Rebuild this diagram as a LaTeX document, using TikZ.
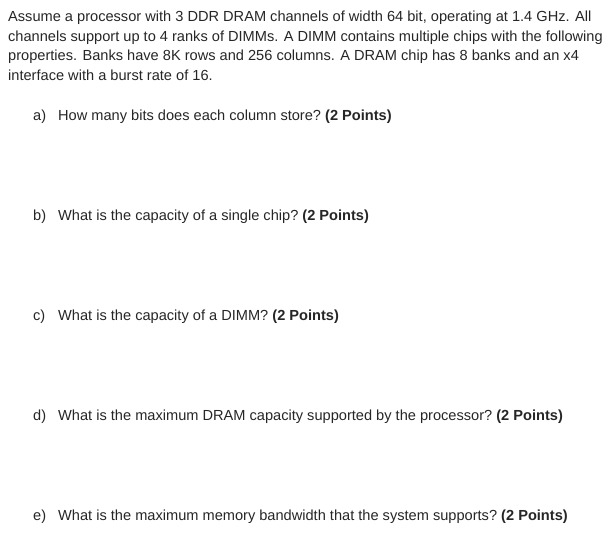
\documentclass[tikz,border=0pt]{standalone}
\usepackage{fontspec}
\setmainfont{Liberation Sans}
\begin{document}
\begin{tikzpicture}[x=1pt,y=1pt,
  txt/.style={anchor=base west,inner sep=0pt,font=\fontsize{14.6}{17}\selectfont,text=black!85}]
\useasboundingbox (0,0) rectangle (608,540);
\node[txt] (l1) at (8,518) {Assume a processor with 3 DDR DRAM channels of width 64 bit, operating at 1.4 GHz. All};
\node[txt] (l2) at (8,498.5) {channels support up to 4 ranks of DIMMs. A DIMM contains multiple chips with the following};
\node[txt] (l3) at (8,479) {properties. Banks have 8K rows and 256 columns. A DRAM chip has 8 banks and an x4};
\node[txt] (l4) at (8,459.5) {interface with a burst rate of 16.};
\foreach \n/\l/\t [count=\i from 0] in {qa/a)/How many bits does each column store?,
  qb/b)/What is the capacity of a single chip?,
  qc/c)/What is the capacity of a DIMM?,
  qd/d)/What is the maximum DRAM capacity supported by the processor?,
  qe/e)/What is the maximum memory bandwidth that the system supports?}{
  \node[txt] (\n l) at (33,{419-100*\i}) {\l};
  \node[txt] (\n) at (58,{419-100*\i}) {\t\ \textbf{(2 Points)}};
}
\end{tikzpicture}
\end{document}
